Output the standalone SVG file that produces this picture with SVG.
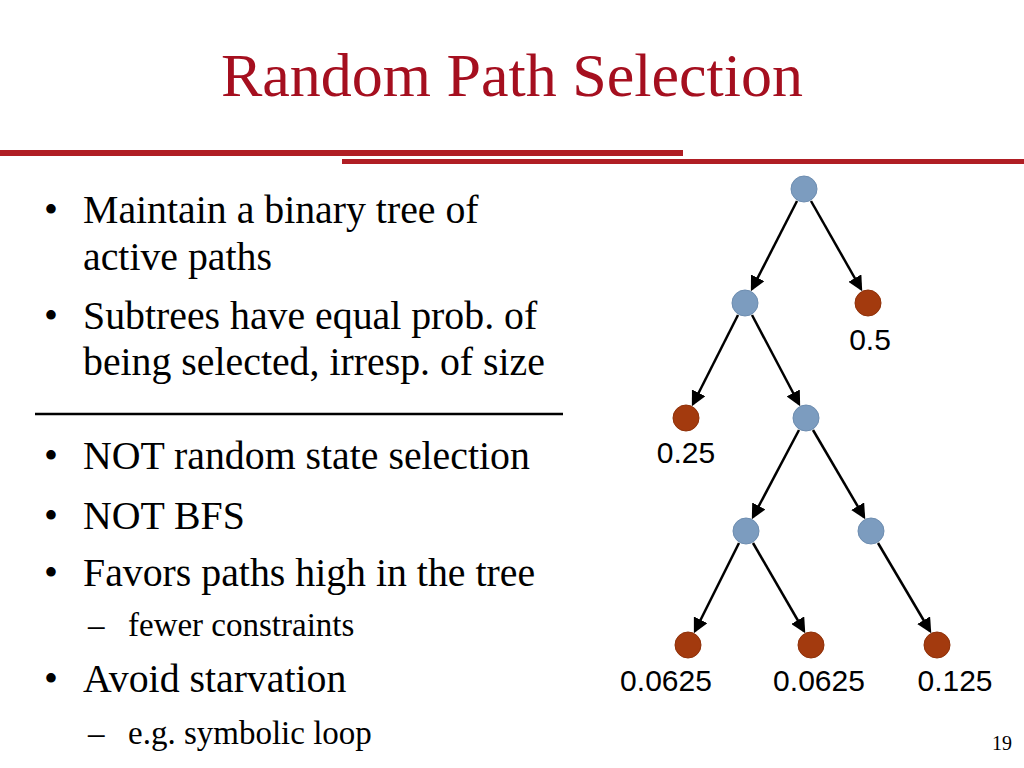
<svg xmlns="http://www.w3.org/2000/svg" width="1024" height="768" viewBox="0 0 1024 768">
<defs>
<style>
.b{fill:#7c9cbf;stroke:#6d8db0;stroke-width:1}
.r{fill:#a33a0e;stroke:#8f3008;stroke-width:1}
.e{stroke:#000;stroke-width:2.5;fill:none;marker-end:url(#a)}
.t{font-family:"Liberation Serif",serif;font-size:39.8px;fill:#000}
.s{font-family:"Liberation Serif",serif;font-size:33px;fill:#000}
.n{font-family:"Liberation Sans",sans-serif;font-size:30px;fill:#000}
</style>
<marker id="a" markerWidth="6" markerHeight="6" refX="5" refY="3" orient="auto" markerUnits="strokeWidth"><path d="M0,0L6,3L0,6z" fill="#000"/></marker>
</defs>
<rect width="1024" height="768" fill="#fff"/>
<text x="512" y="96" text-anchor="middle" font-family="Liberation Serif,serif" font-size="62" fill="#a50f1f">Random Path Selection</text>
<rect x="0" y="150" width="683" height="6" fill="#b01e24"/>
<rect x="342" y="159" width="682" height="5" fill="#b01e24"/>
<line x1="35" y1="414" x2="563" y2="414" stroke="#000" stroke-width="2.5"/>
<g id="text">
<text class="t" x="44" y="223">•</text><text class="t" x="83" y="223">Maintain a binary tree of</text>
<text class="t" x="83" y="270">active paths</text>
<text class="t" x="44" y="329">•</text><text class="t" x="83" y="329">Subtrees have equal prob. of</text>
<text class="t" x="83" y="375">being selected, irresp. of size</text>
<text class="t" x="44" y="469">•</text><text class="t" x="83" y="469">NOT random state selection</text>
<text class="t" x="44" y="529">•</text><text class="t" x="83" y="529">NOT BFS</text>
<text class="t" x="44" y="586">•</text><text class="t" x="83" y="586">Favors paths high in the tree</text>
<text class="s" x="88" y="636">–</text><text class="s" x="128" y="636">fewer constraints</text>
<text class="t" x="44" y="692">•</text><text class="t" x="83" y="692">Avoid starvation</text>
<text class="s" x="88" y="744">–</text><text class="s" x="128" y="744">e.g. symbolic loop</text>
<text x="1012" y="750" text-anchor="end" font-family="Liberation Serif,serif" font-size="20">19</text>
</g>
<g id="connectors">
<line class="e" x1="797" y1="201" x2="752" y2="289"/>
<line class="e" x1="811" y1="201" x2="861" y2="289"/>
<line class="e" x1="738" y1="315" x2="693" y2="404"/>
<line class="e" x1="752" y1="315" x2="799" y2="404"/>
<line class="e" x1="799" y1="430" x2="753" y2="517"/>
<line class="e" x1="813" y1="430" x2="864" y2="517"/>
<line class="e" x1="739" y1="543" x2="695" y2="631"/>
<line class="e" x1="753" y1="543" x2="804" y2="631"/>
<line class="e" x1="878" y1="543" x2="930" y2="631"/>
</g>
<g id="n1"><circle class="b" cx="804" cy="189" r="13"/></g>
<g id="n2"><circle class="b" cx="745" cy="303" r="13"/></g>
<g id="n3"><circle class="r" cx="868" cy="303" r="13"/><text class="n" x="870" y="350" text-anchor="middle">0.5</text></g>
<g id="n4"><circle class="r" cx="686" cy="418" r="13"/><text class="n" x="686" y="463" text-anchor="middle">0.25</text></g>
<g id="n5"><circle class="b" cx="806" cy="418" r="13"/></g>
<g id="n6"><circle class="b" cx="746" cy="531" r="13"/></g>
<g id="n7"><circle class="b" cx="871" cy="531" r="13"/></g>
<g id="n8"><circle class="r" cx="688" cy="645" r="13"/><text class="n" x="666" y="691" text-anchor="middle">0.0625</text></g>
<g id="n9"><circle class="r" cx="811" cy="645" r="13"/><text class="n" x="819" y="691" text-anchor="middle">0.0625</text></g>
<g id="n10"><circle class="r" cx="937" cy="645" r="13"/><text class="n" x="955" y="691" text-anchor="middle">0.125</text></g>
</svg>
